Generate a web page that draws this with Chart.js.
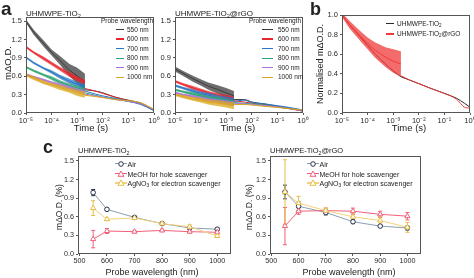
<!DOCTYPE html>
<html>
<head>
<meta charset="utf-8">
<script src="https://cdn.jsdelivr.net/npm/chart.js@4.4.1/dist/chart.umd.min.js"></script>
<style>
  body { margin: 0; width: 474px; height: 278px; background: #fff; position: relative; overflow: hidden;
         font-family: "Liberation Sans", Arial, sans-serif; color: #222; }
  canvas { position: absolute; }
  .t { position: absolute; white-space: nowrap; line-height: 1; }
  .t sub { font-size: 70%; vertical-align: -0.3em; line-height: 0; }
  .seg { position: absolute; height: 1.3px; }
  svg { position: absolute; overflow: visible; }
</style>
</head>
<body>
<canvas id="a1" width="160" height="122" style="left:0;top:10px"></canvas>
<canvas id="a2" width="160" height="122" style="left:150px;top:10px"></canvas>
<canvas id="b" width="158" height="124" style="left:316px;top:8px"></canvas>
<canvas id="c1" width="186" height="121" style="left:50px;top:150px"></canvas>
<canvas id="c2" width="184" height="121" style="left:242px;top:150px"></canvas>
<script>
// ---- data ----
const probeNames = ['550 nm', '600 nm', '700 nm', '800 nm', '900 nm', '1000 nm'];
const probeColors = ['#3c3c3c', '#e8262e', '#2677c4', '#2fa36e', '#ad6fe0', '#d9a61c'];
const tFast = [1e-5, 2e-5, 5e-5, 1e-4, 2e-4, 5e-4, 1e-3, 2e-3];
const tSlow = [2e-3, 5e-3, 1e-2, 3e-2, 1e-1, 3e-1, 1];
const timeTicks = [1e-5, 1e-4, 1e-3, 1e-2, 1e-1, 1];
const timeTickLabels = ['10⁻⁵', '10⁻⁴', '10⁻³', '10⁻²', '10⁻¹', '10⁰'];
const odTicks = [0, 0.3, 0.6, 0.9, 1.2, 1.5];
const normTicks = [0, 0.2, 0.4, 0.6, 0.8, 1.0];

// UHMWPE-TiO2: mean of the noisy trace, its half spread, then the slow tail
const tio2Fast = [
  [1.50, 1.32, 1.13, 0.99, 0.87, 0.70, 0.61, 0.51],
  [1.08, 0.99, 0.89, 0.81, 0.73, 0.63, 0.56, 0.50],
  [0.91, 0.82, 0.73, 0.67, 0.60, 0.52, 0.47, 0.42],
  [0.75, 0.69, 0.62, 0.57, 0.51, 0.45, 0.41, 0.37],
  [0.63, 0.59, 0.54, 0.50, 0.46, 0.41, 0.37, 0.34],
  [0.62, 0.57, 0.50, 0.46, 0.42, 0.37, 0.33, 0.30],
];
const tio2Spread = [
  [0.03, 0.04, 0.05, 0.05, 0.07, 0.10, 0.13, 0.13],
  [0.02, 0.02, 0.03, 0.03, 0.03, 0.04, 0.04, 0.04],
  [0.02, 0.02, 0.02, 0.03, 0.03, 0.04, 0.04, 0.05],
  [0.02, 0.02, 0.02, 0.03, 0.03, 0.03, 0.04, 0.04],
  [0.02, 0.02, 0.02, 0.02, 0.03, 0.03, 0.03, 0.04],
  [0.02, 0.03, 0.03, 0.03, 0.04, 0.04, 0.05, 0.05],
];
const tio2Slow = [
  [0.38, 0.36, 0.33, 0.26, 0.21, 0.16, 0.05],
  [0.40, 0.36, 0.32, 0.26, 0.20, 0.15, 0.04],
  [0.36, 0.31, 0.28, 0.24, 0.19, 0.14, 0.04],
  [0.33, 0.29, 0.26, 0.23, 0.19, 0.15, 0.05],
  [0.31, 0.28, 0.26, 0.22, 0.19, 0.15, 0.06],
  [0.29, 0.27, 0.25, 0.22, 0.20, 0.17, 0.06],
];

// UHMWPE-TiO2@rGO
const rgoFast = [
  [0.72, 0.65, 0.56, 0.50, 0.44, 0.38, 0.33, 0.28],
  [0.52, 0.47, 0.41, 0.37, 0.33, 0.29, 0.26, 0.23],
  [0.45, 0.41, 0.36, 0.32, 0.29, 0.25, 0.22, 0.20],
  [0.38, 0.35, 0.31, 0.28, 0.25, 0.22, 0.19, 0.17],
  [0.33, 0.30, 0.27, 0.24, 0.22, 0.19, 0.17, 0.15],
  [0.30, 0.27, 0.23, 0.21, 0.18, 0.16, 0.14, 0.12],
];
const rgoSpread = [
  [0.04, 0.04, 0.05, 0.05, 0.06, 0.07, 0.08, 0.08],
  [0.02, 0.02, 0.03, 0.03, 0.03, 0.03, 0.04, 0.04],
  [0.02, 0.02, 0.03, 0.03, 0.04, 0.04, 0.05, 0.05],
  [0.02, 0.02, 0.03, 0.03, 0.03, 0.04, 0.04, 0.04],
  [0.02, 0.02, 0.02, 0.03, 0.03, 0.03, 0.04, 0.04],
  [0.02, 0.03, 0.03, 0.04, 0.04, 0.05, 0.05, 0.06],
];
const rgoSlow = [
  [0.22, 0.22, 0.18, 0.15, 0.11, 0.08, 0.03],
  [0.20, 0.18, 0.16, 0.14, 0.10, 0.07, 0.03],
  [0.19, 0.21, 0.17, 0.15, 0.12, 0.09, 0.05],
  [0.17, 0.16, 0.15, 0.13, 0.10, 0.07, 0.04],
  [0.16, 0.15, 0.14, 0.12, 0.10, 0.07, 0.04],
  [0.14, 0.14, 0.13, 0.11, 0.09, 0.07, 0.05],
];

// normalised traces
const tNormSlow = [2e-3, 5e-3, 1e-2, 3e-2, 1e-1, 3e-1, 6e-1, 1];
const normTio2Fast = [1.00, 0.90, 0.78, 0.69, 0.60, 0.50, 0.43, 0.37];
const normTio2Slow = [0.37, 0.33, 0.30, 0.25, 0.20, 0.15, 0.10, 0.06];
const normRgoFast = [1.00, 0.90, 0.79, 0.71, 0.64, 0.57, 0.53, 0.50];
const normRgoSpread = [0.02, 0.04, 0.05, 0.06, 0.08, 0.10, 0.12, 0.13];
const normRgoSlow = [0.38, 0.33, 0.30, 0.25, 0.20, 0.14, 0.06, 0.05];

// scavenger tests
const wavelengths = [550, 600, 700, 800, 900, 1000];
const wlTicks = [500, 600, 700, 800, 900, 1000];
const c1Air = [0.99, 0.72, 0.59, 0.49, 0.42, 0.40];
const c1AirErr = [0.05, 0.02, 0.02, 0.02, 0.02, 0.02];
const c1MeOH = [0.24, 0.37, 0.36, 0.38, 0.36, 0.35];
const c1MeOHErr = [0.14, 0.04, 0.02, 0.02, 0.02, 0.02];
const c1Ag = [0.74, 0.56, 0.58, 0.49, 0.44, 0.29];
const c1AgErr = [0.12, 0.02, 0.02, 0.02, 0.03, 0.02];
const c2Air = [1.00, 0.77, 0.67, 0.52, 0.45, 0.42];
const c2AirErr = [0.11, 0.07, 0.04, 0.03, 0.02, 0.03];
const c2MeOH = [0.45, 0.69, 0.70, 0.69, 0.64, 0.61];
const c2MeOHErr = [0.30, 0.05, 0.04, 0.05, 0.05, 0.06];
const c2Ag = [1.00, 0.82, 0.70, 0.60, 0.54, 0.43];
const c2AgErr = [0.52, 0.11, 0.04, 0.06, 0.06, 0.08];

const airLine = '#8aa0ae', airMark = '#2b3550';
const meohColor = '#f0607a';
const agLine = '#f3d27a', agMark = '#e6bd45';

// ---- helpers ----
const fontFamily = '"Liberation Sans", Arial, sans-serif';
const pts = (xs, ys) => xs.map((x, i) => ({ x, y: ys[i] }));

function alpha(hex, a) {
  const n = parseInt(hex.slice(1), 16);
  return `rgba(${n >> 16},${(n >> 8) & 255},${n & 255},${a})`;
}

const framePlugin = {
  id: 'frame',
  afterDraw(chart) {
    const { ctx, chartArea: a } = chart;
    ctx.save();
    ctx.strokeStyle = '#555';
    ctx.lineWidth = 1;
    ctx.strokeRect(Math.round(a.left) + 0.5, Math.round(a.top) + 0.5,
      Math.round(a.right - a.left) - 1, Math.round(a.bottom - a.top) - 1);
    ctx.restore();
  },
};

const errorBars = {
  id: 'errorBars',
  beforeDatasetsDraw(chart) {
    const { ctx, scales: { x, y } } = chart;
    chart.data.datasets.forEach((ds) => {
      if (!ds.errs) return;
      ctx.save();
      ctx.strokeStyle = ds.errColor;
      ctx.lineWidth = 1;
      ds.data.forEach((p, i) => {
        const px = x.getPixelForValue(p.x);
        const y1 = y.getPixelForValue(p.y - ds.errs[i]);
        const y2 = y.getPixelForValue(p.y + ds.errs[i]);
        ctx.beginPath();
        ctx.moveTo(px, y1); ctx.lineTo(px, y2);
        ctx.moveTo(px - 2, y1); ctx.lineTo(px + 2, y1);
        ctx.moveTo(px - 2, y2); ctx.lineTo(px + 2, y2);
        ctx.stroke();
      });
      ctx.restore();
    });
  },
};

function axis(type, min, max, ticks, labels, size, isX, fontSize = 7.5) {
  return {
    type, min, max,
    afterBuildTicks: (s) => { s.ticks = ticks.map((v) => ({ value: v })); },
    afterFit: (s) => {
      if (isX) { s.height = size; s.paddingLeft = 0; s.paddingRight = 0; }
      else { s.width = size; s.paddingTop = 0; s.paddingBottom = 0; }
    },
    ticks: { callback: (v, i) => labels[i], font: { family: fontFamily, size: fontSize }, color: '#2a2a2a', padding: isX ? 1 : 2, maxRotation: 0, autoSkip: false },
    grid: { drawOnChartArea: false, tickLength: 2, color: '#555' },
    border: { display: false },
  };
}

function makeChart(id, datasets, x, y, pad) {
  return new Chart(document.getElementById(id), {
    type: 'line',
    data: { datasets },
    options: {
      responsive: false, animation: false, devicePixelRatio: 1,
      layout: { padding: { top: pad[0], right: pad[1], left: 0, bottom: 0 } },
      plugins: { legend: { display: false }, tooltip: { enabled: false } },
      scales: { x, y },
    },
    plugins: [framePlugin, errorBars],
  });
}

function bandSets(fast, spread, slow, color, order, tSlowArr = tSlow, fillA = 0.75) {
  const lo = fast.map((v, i) => v - spread[i]);
  const hi = fast.map((v, i) => v + spread[i]);
  const line = { pointRadius: 0, borderWidth: 1, borderColor: color, cubicInterpolationMode: 'monotone', order };
  return [
    { data: pts(tFast, lo), pointRadius: 0, borderWidth: 0, fill: false, order },
    { data: pts(tFast, hi), pointRadius: 0, borderWidth: 0, fill: '-1', backgroundColor: alpha(color, fillA), order },
    { ...line, data: pts(tFast, fast) },
    { ...line, data: pts(tSlowArr, slow) },
  ];
}

function decayPanel(id, fast, spread, slow, yW, padR) {
  const sets = [];
  fast.forEach((f, i) => sets.push(...bandSets(f, spread[i], slow[i], probeColors[i], 10 - i)));
  makeChart(id, sets,
    axis('logarithmic', 1e-5, 1, timeTicks, timeTickLabels, 19, true),
    axis('linear', 0, 1.57, odTicks, odTicks.map((v) => v.toFixed(1)), yW, false),
    [7, padR]);
}

function scavPanel(id, air, airE, meoh, meohE, ag, agE) {
  const base = { borderWidth: 1, pointBorderWidth: 1, pointBackgroundColor: '#fff' };
  const sets = [
    { ...base, data: pts(wavelengths, air), borderColor: airLine, pointBorderColor: airMark, pointStyle: 'circle', pointRadius: 2.3, errs: airE, errColor: airMark, order: 3 },
    { ...base, data: pts(wavelengths, meoh), borderColor: meohColor, pointBorderColor: meohColor, pointStyle: 'triangle', pointRadius: 3, errs: meohE, errColor: meohColor, order: 2 },
    { ...base, data: pts(wavelengths, ag), borderColor: agLine, pointBorderColor: agMark, pointStyle: 'triangle', pointRadius: 3, errs: agE, errColor: agMark, order: 1 },
  ];
  makeChart(id, sets,
    axis('linear', 495, 1050, wlTicks, wlTicks.map(String), 17, true, 7.2),
    axis('linear', 0, 1.58, odTicks, odTicks.map((v) => v.toFixed(1)), 28, false, 7.2),
    [6, 4]);
}

// ---- charts ----
decayPanel('a1', tio2Fast, tio2Spread, tio2Slow, 26, 6);
decayPanel('a2', rgoFast, rgoSpread, rgoSlow, 25, 7);

makeChart('b', [
  ...bandSets(normRgoFast, normRgoSpread, normRgoSlow, '#f03a3a', 1, tNormSlow, 0.75),
  { data: pts(tFast, normTio2Fast), pointRadius: 0, borderWidth: 1, borderColor: '#2a2a2a', cubicInterpolationMode: 'monotone', order: 5 },
  { data: pts(tNormSlow, normTio2Slow), pointRadius: 0, borderWidth: 1, borderColor: '#2a2a2a', cubicInterpolationMode: 'monotone', order: 5 },
],
  axis('logarithmic', 1e-5, 1, timeTicks, timeTickLabels, 19, true),
  axis('linear', 0, 1.0, normTicks, normTicks.map((v) => v.toFixed(1)), 26, false),
  [7, 4]);

scavPanel('c1', c1Air, c1AirErr, c1MeOH, c1MeOHErr, c1Ag, c1AgErr);
scavPanel('c2', c2Air, c2AirErr, c2MeOH, c2MeOHErr, c2Ag, c2AgErr);

// ---- text, legends ----
function put(html, x, y, size, opts = {}) {
  const d = document.createElement('div');
  d.className = 't';
  d.innerHTML = html;
  d.style.left = x + 'px';
  d.style.top = y + 'px';
  d.style.fontSize = size + 'px';
  if (opts.bold) d.style.fontWeight = 'bold';
  let tf = opts.center ? 'translate(-50%,-50%)' : 'translateY(-50%)';
  if (opts.rot) tf += ' rotate(-90deg)';
  if (!opts.raw) d.style.transform = tf;
  document.body.appendChild(d);
}
function seg(x1, x2, y, color) {
  const d = document.createElement('div');
  d.className = 'seg';
  d.style.left = x1 + 'px'; d.style.width = (x2 - x1) + 'px';
  d.style.top = (y - 0.6) + 'px'; d.style.background = color;
  document.body.appendChild(d);
}
function mark(x, y, shape, color) {
  const s = document.createElementNS('http://www.w3.org/2000/svg', 'svg');
  s.setAttribute('width', 8); s.setAttribute('height', 8);
  s.style.left = (x - 4) + 'px'; s.style.top = (y - 4) + 'px';
  s.innerHTML = shape === 'circle'
    ? `<circle cx="4" cy="4" r="2.3" fill="#fff" stroke="${color}" stroke-width="1"/>`
    : `<polygon points="4,1 7,6.3 1,6.3" fill="#fff" stroke="${color}" stroke-width="1"/>`;
  document.body.appendChild(s);
}

put('a', 1, -1, 19, { bold: true, raw: true });
put('b', 310, 0, 18, { bold: true, raw: true });
put('c', 43, 138, 18, { bold: true, raw: true });

put('UHMWPE-TiO<sub>2</sub>', 26, 14, 8);
put('UHMWPE-TiO<sub>2</sub>@rGO', 175, 14, 8);
put('UHMWPE-TiO<sub>2</sub>', 78, 151, 7.5);
put('UHMWPE-TiO<sub>2</sub>@rGO', 270, 151, 7.5);

put('mΔO.D.', 8, 63, 9.5, { center: true, rot: true });
put('Time (s)', 91, 128, 9.5, { center: true });
put('Time (s)', 238, 128, 9.5, { center: true });
put('Normalised mΔO.D.', 320, 64, 9, { center: true, rot: true });
put('Time (s)', 409, 128, 9.5, { center: true });
put('mΔO.D. (%)', 59, 207, 8.5, { center: true, rot: true });
put('Probe wavelength (nm)', 152, 272, 9, { center: true });
put('mΔO.D. (%)', 249, 207, 8.5, { center: true, rot: true });
put('Probe wavelength (nm)', 349, 272, 9, { center: true });

const rowsA = [29.5, 39, 48.7, 58.3, 67.7, 77.3];
[[101, 116, 124, 127], [249, 262, 273, 278]].forEach(([hx, l1, l2, tx]) => {
  put('Probe wavelength', hx, 20.5, 6.5);
  probeNames.forEach((n, i) => { seg(l1, l2, rowsA[i], probeColors[i]); put(n, tx, rowsA[i], 6.5); });
});

seg(386, 394, 23.5, '#2a2a2a'); put('UHMWPE-TiO<sub>2</sub>', 397, 23.5, 6.5);
seg(386, 394, 34, '#f03a3a'); put('UHMWPE-TiO<sub>2</sub>@rGO', 397, 34, 6.5);

const rowsC = [163.5, 173.5, 183];
[121, 313].forEach((mx) => {
  seg(mx - 6, mx + 6, rowsC[0], airLine); mark(mx, rowsC[0], 'circle', airMark); put('Air', mx + 6.5, rowsC[0], 7);
  seg(mx - 6, mx + 6, rowsC[1], meohColor); mark(mx, rowsC[1], 'tri', meohColor); put('MeOH for hole scavenger', mx + 6.5, rowsC[1], 7);
  seg(mx - 6, mx + 6, rowsC[2], agLine); mark(mx, rowsC[2], 'tri', agMark); put('AgNO<sub>3</sub> for electron scavenger', mx + 6.5, rowsC[2], 7);
});
</script>
</body>
</html>
